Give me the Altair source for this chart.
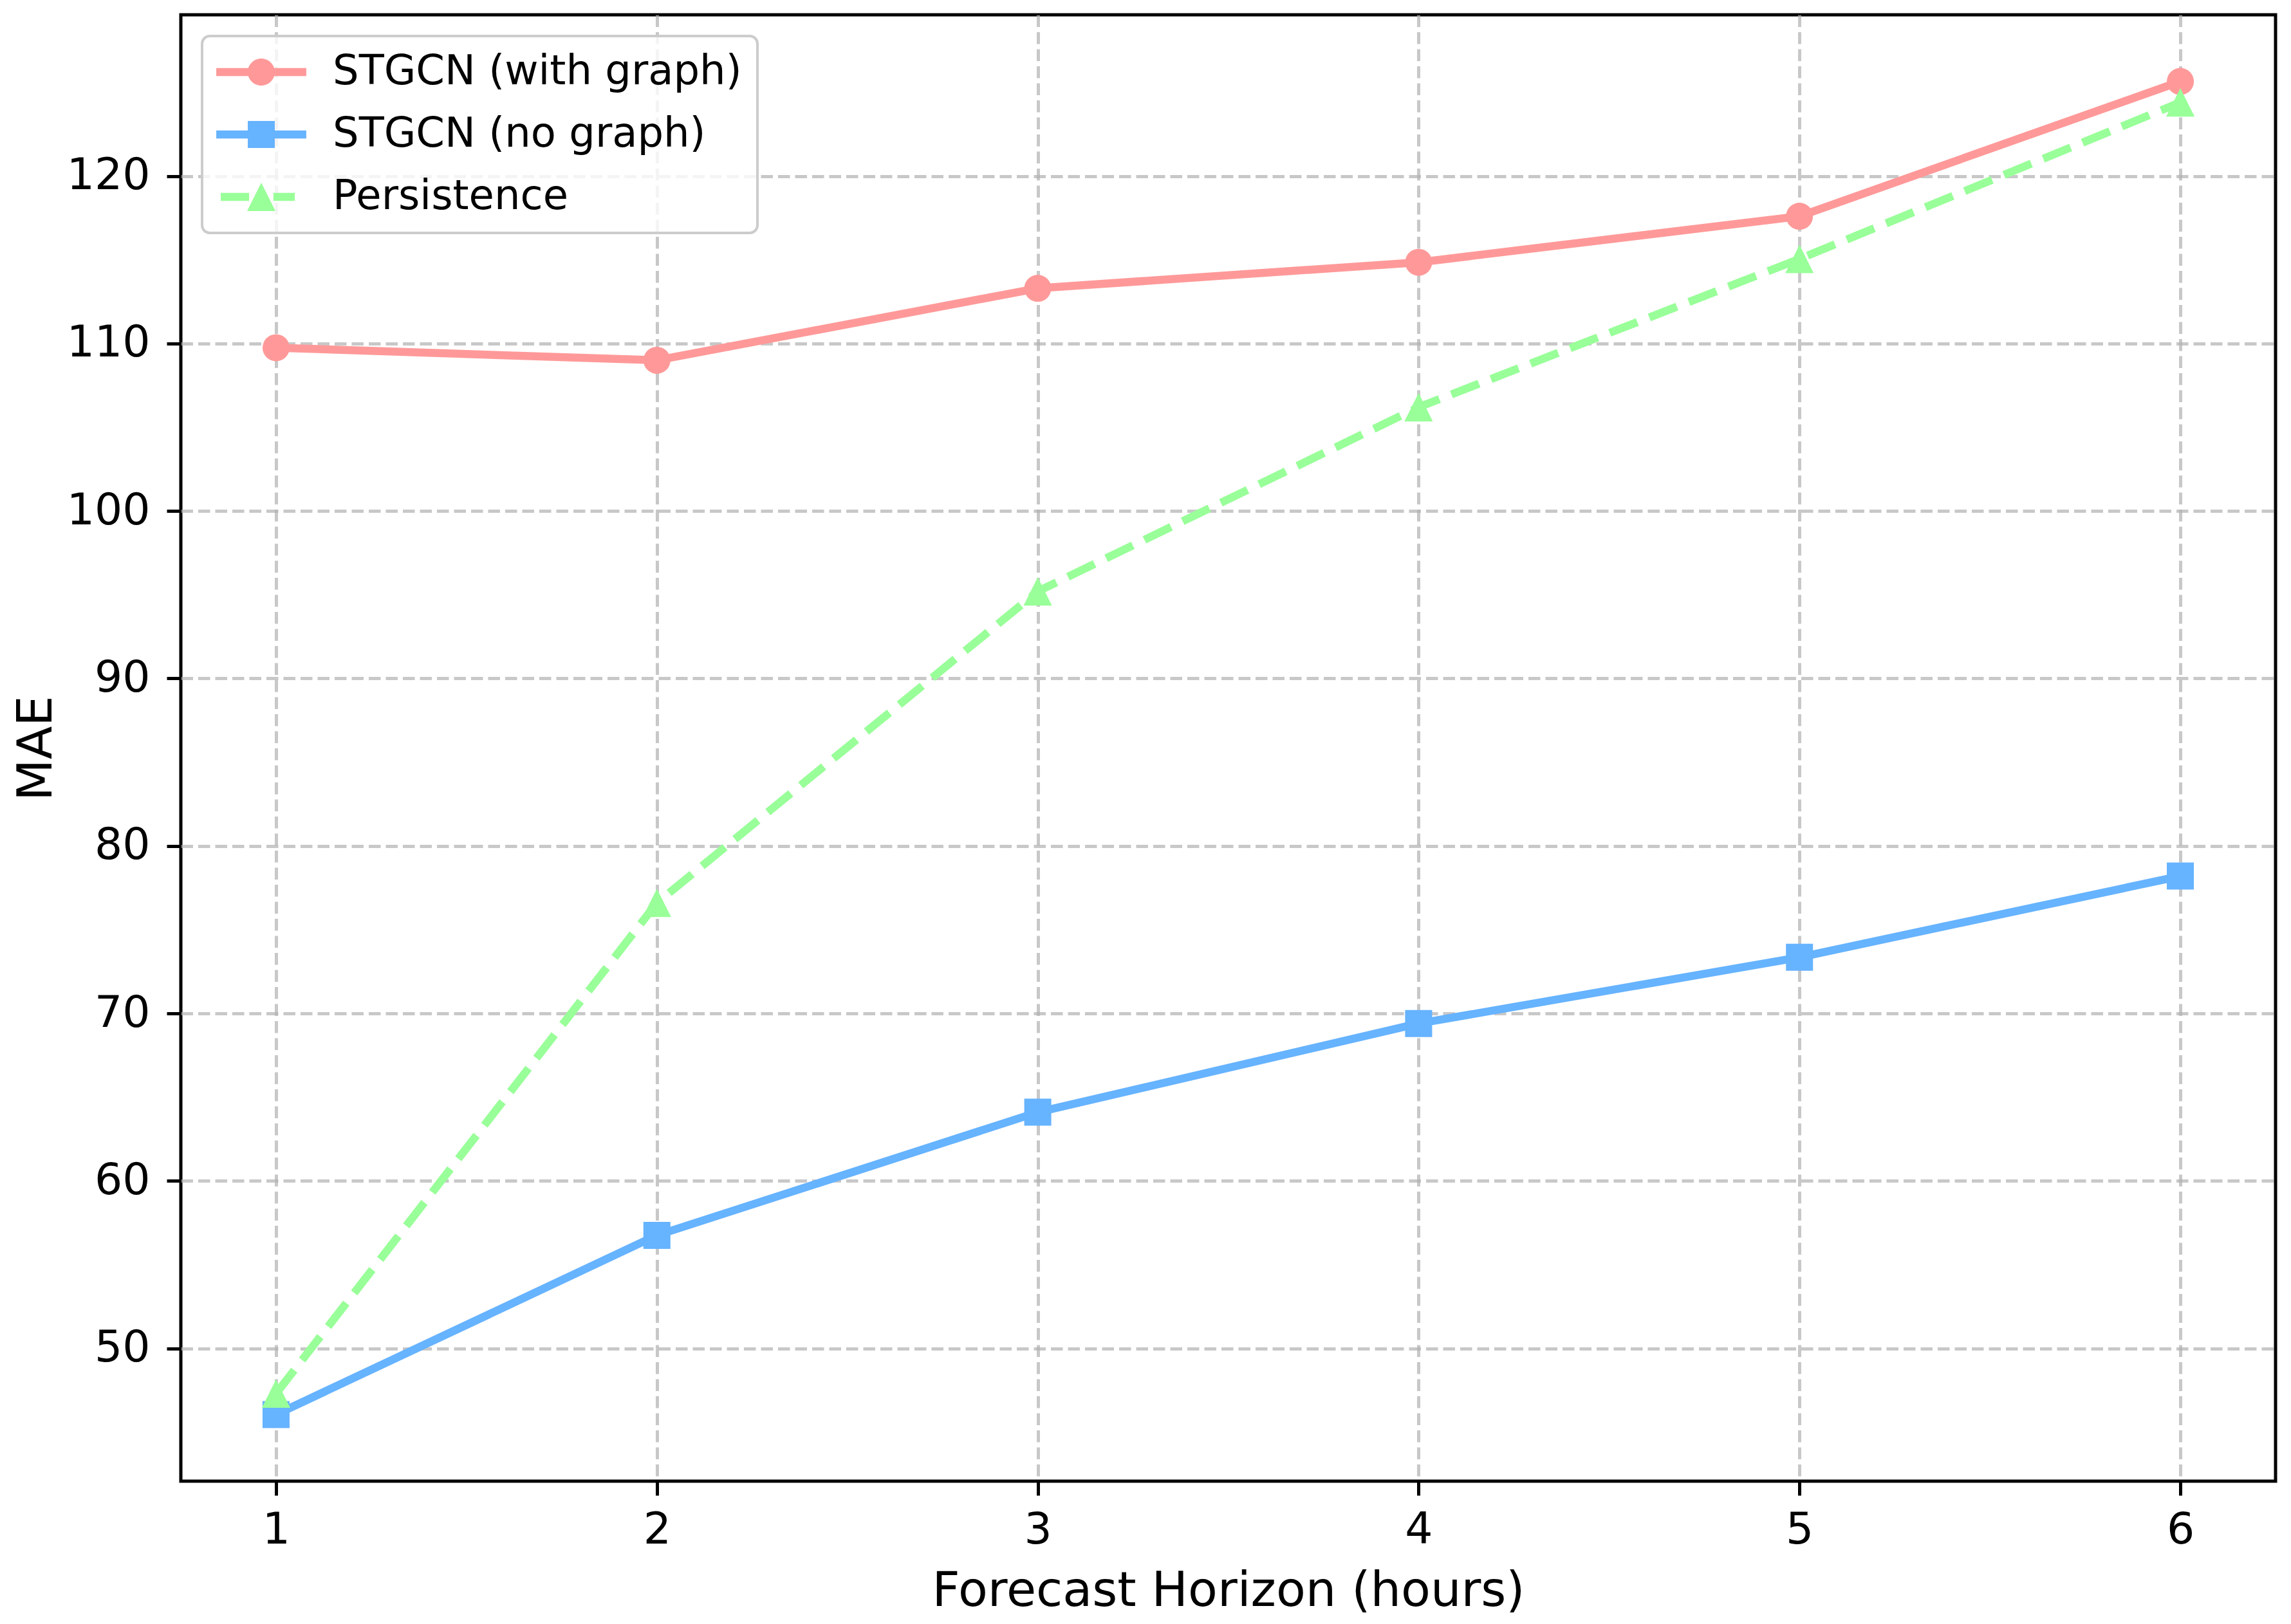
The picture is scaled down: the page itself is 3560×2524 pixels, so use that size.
import altair as alt
import pandas as pd

# ---- data ----
horizons = [1, 2, 3, 4, 5, 6]
series_names = ["STGCN (with graph)", "STGCN (no graph)", "Persistence"]
with_graph = [109.75, 109.0, 113.3, 114.85, 117.6, 125.65]
no_graph = [46.05, 56.75, 64.1, 69.4, 73.35, 78.2]
persistence = [47.3, 76.6, 95.2, 106.2, 115.05, 124.4]
series_values = [with_graph, no_graph, persistence]
colors = ["#ff9999", "#66b3ff", "#99ff99"]
y_ticks = [50, 60, 70, 80, 90, 100, 110, 120]

# marker shapes in the plot
tri = "M0,-1.05L1.05,1.05L-1.05,1.05Z"
marker_shapes = ["circle", "square", tri]
dashes = [None, None, [46, 20]]

# legend symbols: line + marker drawn as one path
leg_paths = [
    "M-3.33,-0.3H-0.95V0.3H-3.33Z M0.95,-0.3H3.33V0.3H0.95Z M-1,0A1,1 0 1,1 1,0A1,1 0 1,1 -1,0Z",
    "M-3.33,-0.3H-0.95V0.3H-3.33Z M0.95,-0.3H3.33V0.3H0.95Z M-1,-1H1V1H-1Z",
    "M-3.0,-0.3H-0.9V0.3H-3.0Z M0.9,-0.3H2.48V0.3H0.9Z M0,-1.05L1.05,1.05L-1.05,1.05Z",
]

rows = []
for name, vals in zip(series_names, series_values):
    for h, v in zip(horizons, vals):
        rows.append({"series": name, "h": h, "mae": v})
df = pd.DataFrame(rows)

FONT = "DejaVu Sans"
W, H = 3255, 2279

x_enc = alt.X(
    "h:Q",
    scale=alt.Scale(domain=[0.75, 6.25], nice=False, zero=False),
    axis=alt.Axis(values=horizons, format="d", title="Forecast Horizon (hours)"),
)
y_enc = alt.Y(
    "mae:Q",
    scale=alt.Scale(domain=[42.07, 129.63], nice=False, zero=False),
    axis=alt.Axis(values=y_ticks, format="d", title="MAE"),
)

layers = []
for name, col, shp, dsh in zip(series_names, colors, marker_shapes, dashes):
    base = alt.Chart(df).transform_filter(alt.datum.series == name)
    lk = dict(color=col, strokeWidth=12.5, strokeJoin="round")
    if dsh:
        lk["strokeDash"] = dsh
        lk["strokeCap"] = "butt"
    else:
        lk["strokeCap"] = "square"
    layers.append(base.mark_line(**lk).encode(x=x_enc, y=y_enc))
    layers.append(
        base.mark_point(filled=True, shape=shp, size=1764, color=col, opacity=1, strokeWidth=0)
        .encode(x=x_enc, y=y_enc)
    )

def make_legend():
    return alt.Legend(
        title=None,
        orient="none",
        legendX=33,
        legendY=33,
        symbolSize=1764,
        symbolStrokeWidth=0,
        symbolOffset=36,
        labelOffset=79,
        labelFontSize=64,
        labelFont=FONT,
        labelColor="#000000",
        labelLimit=0,
        padding=24,
        rowPadding=33,
        fillColor="rgba(255,255,255,0.8)",
        strokeColor="#cccccc",
        cornerRadius=12,
    )

legend_layer = (
    alt.Chart(df)
    .transform_filter("false")
    .mark_point(filled=True, opacity=1, strokeWidth=0)
    .encode(
        x=x_enc,
        y=y_enc,
        color=alt.Color(
            "series:N",
            scale=alt.Scale(domain=series_names, range=colors),
            legend=make_legend(),
        ),
        shape=alt.Shape(
            "series:N",
            scale=alt.Scale(domain=series_names, range=leg_paths),
            legend=make_legend(),
        ),
    )
)

chart = (
    alt.layer(*layers, legend_layer)
    .properties(
        width=W,
        height=H,
        autosize=alt.AutoSizeParams(type="none"),
        padding={"left": 281, "top": 23, "right": 24, "bottom": 222},
        background="white",
    )
    .configure_view(stroke="#000000", strokeWidth=5)
    .configure_legend(strokeWidth=4)
    .configure_axis(
        domain=False,
        grid=True,
        gridColor="#b0b0b0",
        gridOpacity=0.7,
        gridWidth=5,
        gridDash=[18.5, 8],
        ticks=True,
        tickColor="#000000",
        tickSize=22,
        tickWidth=5,
        labelFont=FONT,
        labelFontSize=68,
        labelColor="#000000",
        titleFont=FONT,
        titleFontSize=75,
        titleFontWeight="normal",
        titleColor="#000000",
    )
    .configure_axisX(labelPadding=20, titlePadding=24)
    .configure_axisY(labelPadding=26, titlePadding=8)
)

chart.save("out.html", embed_options={"renderer": "svg", "actions": False})
